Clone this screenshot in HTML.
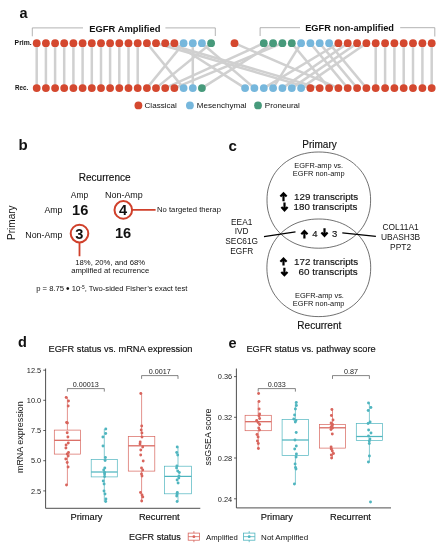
<!DOCTYPE html>
<html><head><meta charset="utf-8"><title>EGFR figure</title>
<style>
html,body{margin:0;padding:0;background:#fff;}
body{width:444px;height:550px;overflow:hidden;}
svg{display:block;font-family:"Liberation Sans",Arial,Helvetica,sans-serif;}
</style></head><body>
<svg width="444" height="550" viewBox="0 0 444 550">
<rect width="444" height="550" fill="#fff"/>
<g stroke="#D0D0D0" stroke-width="2.5" stroke-linecap="butt">
<line x1="36.7" y1="43.2" x2="36.7" y2="88.1"/>
<line x1="45.9" y1="43.2" x2="45.9" y2="88.1"/>
<line x1="55.1" y1="43.2" x2="55.1" y2="88.1"/>
<line x1="64.2" y1="43.2" x2="64.2" y2="88.1"/>
<line x1="73.4" y1="43.2" x2="73.4" y2="88.1"/>
<line x1="82.6" y1="43.2" x2="82.6" y2="88.1"/>
<line x1="91.8" y1="43.2" x2="91.8" y2="88.1"/>
<line x1="101.0" y1="43.2" x2="101.0" y2="88.1"/>
<line x1="110.1" y1="43.2" x2="110.1" y2="88.1"/>
<line x1="119.3" y1="43.2" x2="119.3" y2="88.1"/>
<line x1="128.5" y1="43.2" x2="128.5" y2="88.1"/>
<line x1="137.7" y1="43.2" x2="137.7" y2="88.1"/>
<line x1="375.7" y1="43.2" x2="375.7" y2="88.1"/>
<line x1="385.1" y1="43.2" x2="385.1" y2="88.1"/>
<line x1="394.4" y1="43.2" x2="394.4" y2="88.1"/>
<line x1="403.7" y1="43.2" x2="403.7" y2="88.1"/>
<line x1="413.0" y1="43.2" x2="413.0" y2="88.1"/>
<line x1="422.4" y1="43.2" x2="422.4" y2="88.1"/>
<line x1="431.7" y1="43.2" x2="431.7" y2="88.1"/>
<line x1="146.9" y1="43.2" x2="183.6" y2="88.1"/>
<line x1="183.6" y1="43.2" x2="146.9" y2="88.1"/>
<line x1="192.8" y1="43.2" x2="192.8" y2="88.1"/>
<line x1="211.1" y1="43.2" x2="156.0" y2="88.1"/>
<line x1="174.4" y1="43.2" x2="245.1" y2="88.1"/>
<line x1="201.9" y1="43.2" x2="254.4" y2="88.1"/>
<line x1="156.0" y1="43.2" x2="310.4" y2="88.1"/>
<line x1="165.2" y1="43.2" x2="319.7" y2="88.1"/>
<line x1="263.8" y1="43.2" x2="165.2" y2="88.1"/>
<line x1="273.1" y1="43.2" x2="201.9" y2="88.1"/>
<line x1="282.4" y1="43.2" x2="174.4" y2="88.1"/>
<line x1="234.5" y1="43.2" x2="338.4" y2="88.1"/>
<line x1="291.8" y1="43.2" x2="329.1" y2="88.1"/>
<line x1="310.4" y1="43.2" x2="347.7" y2="88.1"/>
<line x1="319.7" y1="43.2" x2="357.1" y2="88.1"/>
<line x1="329.1" y1="43.2" x2="366.4" y2="88.1"/>
<line x1="301.1" y1="43.2" x2="273.1" y2="88.1"/>
<line x1="338.4" y1="43.2" x2="263.8" y2="88.1"/>
<line x1="347.7" y1="43.2" x2="282.4" y2="88.1"/>
<line x1="357.1" y1="43.2" x2="291.8" y2="88.1"/>
<line x1="366.4" y1="43.2" x2="301.1" y2="88.1"/>
</g>
<circle cx="36.7" cy="43.2" r="3.9" fill="#D4482F"/>
<circle cx="45.9" cy="43.2" r="3.9" fill="#D4482F"/>
<circle cx="55.1" cy="43.2" r="3.9" fill="#D4482F"/>
<circle cx="64.2" cy="43.2" r="3.9" fill="#D4482F"/>
<circle cx="73.4" cy="43.2" r="3.9" fill="#D4482F"/>
<circle cx="82.6" cy="43.2" r="3.9" fill="#D4482F"/>
<circle cx="91.8" cy="43.2" r="3.9" fill="#D4482F"/>
<circle cx="101.0" cy="43.2" r="3.9" fill="#D4482F"/>
<circle cx="110.1" cy="43.2" r="3.9" fill="#D4482F"/>
<circle cx="119.3" cy="43.2" r="3.9" fill="#D4482F"/>
<circle cx="128.5" cy="43.2" r="3.9" fill="#D4482F"/>
<circle cx="137.7" cy="43.2" r="3.9" fill="#D4482F"/>
<circle cx="146.9" cy="43.2" r="3.9" fill="#D4482F"/>
<circle cx="156.0" cy="43.2" r="3.9" fill="#D4482F"/>
<circle cx="165.2" cy="43.2" r="3.9" fill="#D4482F"/>
<circle cx="174.4" cy="43.2" r="3.9" fill="#D4482F"/>
<circle cx="183.6" cy="43.2" r="3.9" fill="#76B7DC"/>
<circle cx="192.8" cy="43.2" r="3.9" fill="#76B7DC"/>
<circle cx="201.9" cy="43.2" r="3.9" fill="#76B7DC"/>
<circle cx="211.1" cy="43.2" r="3.9" fill="#479A7B"/>
<circle cx="36.7" cy="88.1" r="3.9" fill="#D4482F"/>
<circle cx="45.9" cy="88.1" r="3.9" fill="#D4482F"/>
<circle cx="55.1" cy="88.1" r="3.9" fill="#D4482F"/>
<circle cx="64.2" cy="88.1" r="3.9" fill="#D4482F"/>
<circle cx="73.4" cy="88.1" r="3.9" fill="#D4482F"/>
<circle cx="82.6" cy="88.1" r="3.9" fill="#D4482F"/>
<circle cx="91.8" cy="88.1" r="3.9" fill="#D4482F"/>
<circle cx="101.0" cy="88.1" r="3.9" fill="#D4482F"/>
<circle cx="110.1" cy="88.1" r="3.9" fill="#D4482F"/>
<circle cx="119.3" cy="88.1" r="3.9" fill="#D4482F"/>
<circle cx="128.5" cy="88.1" r="3.9" fill="#D4482F"/>
<circle cx="137.7" cy="88.1" r="3.9" fill="#D4482F"/>
<circle cx="146.9" cy="88.1" r="3.9" fill="#D4482F"/>
<circle cx="156.0" cy="88.1" r="3.9" fill="#D4482F"/>
<circle cx="165.2" cy="88.1" r="3.9" fill="#D4482F"/>
<circle cx="174.4" cy="88.1" r="3.9" fill="#D4482F"/>
<circle cx="183.6" cy="88.1" r="3.9" fill="#76B7DC"/>
<circle cx="192.8" cy="88.1" r="3.9" fill="#76B7DC"/>
<circle cx="201.9" cy="88.1" r="3.9" fill="#479A7B"/>
<circle cx="263.8" cy="43.2" r="3.9" fill="#479A7B"/>
<circle cx="273.1" cy="43.2" r="3.9" fill="#479A7B"/>
<circle cx="282.4" cy="43.2" r="3.9" fill="#479A7B"/>
<circle cx="291.8" cy="43.2" r="3.9" fill="#479A7B"/>
<circle cx="301.1" cy="43.2" r="3.9" fill="#76B7DC"/>
<circle cx="310.4" cy="43.2" r="3.9" fill="#76B7DC"/>
<circle cx="319.7" cy="43.2" r="3.9" fill="#76B7DC"/>
<circle cx="329.1" cy="43.2" r="3.9" fill="#76B7DC"/>
<circle cx="338.4" cy="43.2" r="3.9" fill="#D4482F"/>
<circle cx="347.7" cy="43.2" r="3.9" fill="#D4482F"/>
<circle cx="357.1" cy="43.2" r="3.9" fill="#D4482F"/>
<circle cx="366.4" cy="43.2" r="3.9" fill="#D4482F"/>
<circle cx="375.7" cy="43.2" r="3.9" fill="#D4482F"/>
<circle cx="385.1" cy="43.2" r="3.9" fill="#D4482F"/>
<circle cx="394.4" cy="43.2" r="3.9" fill="#D4482F"/>
<circle cx="403.7" cy="43.2" r="3.9" fill="#D4482F"/>
<circle cx="413.0" cy="43.2" r="3.9" fill="#D4482F"/>
<circle cx="422.4" cy="43.2" r="3.9" fill="#D4482F"/>
<circle cx="431.7" cy="43.2" r="3.9" fill="#D4482F"/>
<circle cx="245.1" cy="88.1" r="3.9" fill="#76B7DC"/>
<circle cx="254.4" cy="88.1" r="3.9" fill="#76B7DC"/>
<circle cx="263.8" cy="88.1" r="3.9" fill="#76B7DC"/>
<circle cx="273.1" cy="88.1" r="3.9" fill="#76B7DC"/>
<circle cx="282.4" cy="88.1" r="3.9" fill="#76B7DC"/>
<circle cx="291.8" cy="88.1" r="3.9" fill="#76B7DC"/>
<circle cx="301.1" cy="88.1" r="3.9" fill="#76B7DC"/>
<circle cx="310.4" cy="88.1" r="3.9" fill="#D4482F"/>
<circle cx="319.7" cy="88.1" r="3.9" fill="#D4482F"/>
<circle cx="329.1" cy="88.1" r="3.9" fill="#D4482F"/>
<circle cx="338.4" cy="88.1" r="3.9" fill="#D4482F"/>
<circle cx="347.7" cy="88.1" r="3.9" fill="#D4482F"/>
<circle cx="357.1" cy="88.1" r="3.9" fill="#D4482F"/>
<circle cx="366.4" cy="88.1" r="3.9" fill="#D4482F"/>
<circle cx="375.7" cy="88.1" r="3.9" fill="#D4482F"/>
<circle cx="385.1" cy="88.1" r="3.9" fill="#D4482F"/>
<circle cx="394.4" cy="88.1" r="3.9" fill="#D4482F"/>
<circle cx="403.7" cy="88.1" r="3.9" fill="#D4482F"/>
<circle cx="413.0" cy="88.1" r="3.9" fill="#D4482F"/>
<circle cx="422.4" cy="88.1" r="3.9" fill="#D4482F"/>
<circle cx="431.7" cy="88.1" r="3.9" fill="#D4482F"/>
<circle cx="234.5" cy="43.2" r="3.9" fill="#D4482F"/>
<g fill="none" stroke="#999" stroke-width="0.75">
<path d="M32.3 36.3V27.9H83"/><path d="M165.4 27.9H215.3V36"/>
<path d="M260.1 36V27.7H300"/><path d="M400.2 27.7H434.8V36.5"/>
</g>
<text x="89.3" y="31.5" font-size="9.3" text-anchor="start" font-weight="bold" textLength="71.1" lengthAdjust="spacingAndGlyphs" fill="#111">EGFR Amplified</text>
<text x="305.2" y="31.4" font-size="9.3" text-anchor="start" font-weight="bold" textLength="88.8" lengthAdjust="spacingAndGlyphs" fill="#111">EGFR non-amplified</text>
<text x="14.6" y="45.2" font-size="6.4" text-anchor="start" font-weight="bold" textLength="17.0" lengthAdjust="spacingAndGlyphs" fill="#111">Prim.</text>
<text x="15.0" y="90.3" font-size="6.4" text-anchor="start" font-weight="bold" textLength="13.2" lengthAdjust="spacingAndGlyphs" fill="#111">Rec.</text>
<text x="19.5" y="17.7" font-size="14.5" text-anchor="start" font-weight="bold" fill="#111">a</text>
<circle cx="138.4" cy="105.4" r="3.9" fill="#D4482F"/>
<text x="144.5" y="108.3" font-size="8.1" text-anchor="start" fill="#111">Classical</text>
<circle cx="189.9" cy="105.4" r="3.9" fill="#76B7DC"/>
<text x="196.7" y="108.3" font-size="8.1" text-anchor="start" fill="#111">Mesenchymal</text>
<circle cx="258" cy="105.4" r="3.9" fill="#479A7B"/>
<text x="264.8" y="108.3" font-size="8.1" text-anchor="start" fill="#111">Proneural</text>
<text x="18.6" y="150.4" font-size="15" text-anchor="start" font-weight="bold" fill="#111">b</text>
<text x="78.8" y="180.6" font-size="10" text-anchor="start" stroke="#111" stroke-width="0.15" textLength="51.8" lengthAdjust="spacingAndGlyphs" fill="#111">Recurrence</text>
<text x="70.8" y="197.8" font-size="8.8" text-anchor="start" textLength="17.4" lengthAdjust="spacingAndGlyphs" fill="#111">Amp</text>
<text x="105.0" y="197.8" font-size="8.8" text-anchor="start" textLength="37.8" lengthAdjust="spacingAndGlyphs" fill="#111">Non-Amp</text>
<text x="62.5" y="213.3" font-size="8.8" text-anchor="end" fill="#111">Amp</text>
<text x="62.5" y="238.3" font-size="8.8" text-anchor="end" fill="#111">Non-Amp</text>
<text x="80.2" y="215.0" font-size="14.6" text-anchor="middle" font-weight="bold" fill="#111">16</text>
<text x="123.0" y="215.0" font-size="14.6" text-anchor="middle" font-weight="bold" fill="#111">4</text>
<text x="79.4" y="238.7" font-size="14.6" text-anchor="middle" font-weight="bold" fill="#111">3</text>
<text x="123.0" y="237.8" font-size="14.6" text-anchor="middle" font-weight="bold" fill="#111">16</text>
<g fill="none" stroke="#D0402B" stroke-width="2"><circle cx="123.3" cy="209.9" r="8.8"/><circle cx="79.5" cy="233.6" r="8.8"/><path d="M132 209.9H155.6M79.5 242.3V256.2" stroke-width="1.8"/></g>
<text x="157.1" y="212.4" font-size="7.3" text-anchor="start" textLength="63.8" lengthAdjust="spacingAndGlyphs" fill="#111">No targeted therap</text>
<text x="110.2" y="264.8" font-size="7.7" text-anchor="middle" textLength="69.8" lengthAdjust="spacingAndGlyphs" fill="#111">18%, 20%, and 68%</text>
<text x="110.2" y="273.3" font-size="7.7" text-anchor="middle" textLength="78.0" lengthAdjust="spacingAndGlyphs" fill="#111">amplified at recurrence</text>
<text x="36.2" y="291.1" font-size="7.5" fill="#111" textLength="151.2" lengthAdjust="spacingAndGlyphs">p = 8.75 <tspan font-size="10" dy="0.6">•</tspan><tspan dy="-0.6"> 10</tspan><tspan font-size="4.8" dy="-2.1">-5</tspan><tspan dy="2.1">, Two-sided Fisher’s exact test</tspan></text>
<text transform="translate(15,222.7) rotate(-90)" font-size="10" text-anchor="middle" fill="#111">Primary</text>
<text x="228.4" y="150.8" font-size="15" text-anchor="start" font-weight="bold" fill="#111">c</text>
<text x="319.5" y="148.2" font-size="10" text-anchor="middle" stroke="#111" stroke-width="0.15" fill="#111">Primary</text>
<text x="319.3" y="328.6" font-size="10" text-anchor="middle" stroke="#111" stroke-width="0.15" fill="#111">Recurrent</text>
<g fill="none" stroke="#333" stroke-width="0.7">
<path d="M370.6 200.1L370.5 203.7L370.2 207.0L369.7 210.2L368.9 213.4L368.0 216.4L366.8 219.4L365.5 222.2L364.0 225.0L362.3 227.6L360.4 230.1L358.3 232.4L356.0 234.7L353.6 236.8L351.1 238.7L348.4 240.4L345.6 242.0L342.6 243.5L339.6 244.7L336.4 245.8L333.1 246.6L329.7 247.3L326.2 247.8L322.7 248.1L318.8 248.2L314.9 248.1L311.4 247.8L307.9 247.3L304.5 246.6L301.2 245.8L298.0 244.7L295.0 243.5L292.0 242.0L289.2 240.4L286.5 238.7L284.0 236.8L281.6 234.7L279.3 232.4L277.2 230.1L275.3 227.6L273.6 225.0L272.1 222.2L270.8 219.4L269.6 216.4L268.7 213.4L267.9 210.2L267.4 207.0L267.1 203.7L267.0 200.1L267.1 196.5L267.4 193.2L267.9 190.0L268.7 186.8L269.6 183.8L270.8 180.8L272.1 178.0L273.6 175.2L275.3 172.6L277.2 170.1L279.3 167.8L281.6 165.5L284.0 163.4L286.5 161.5L289.2 159.8L292.0 158.2L295.0 156.7L298.0 155.5L301.2 154.4L304.5 153.6L307.9 152.9L311.4 152.4L314.9 152.1L318.8 152.0L322.7 152.1L326.2 152.4L329.7 152.9L333.1 153.6L336.4 154.4L339.6 155.5L342.6 156.7L345.6 158.2L348.4 159.8L351.1 161.5L353.6 163.4L356.0 165.5L358.3 167.8L360.4 170.1L362.3 172.6L364.0 175.2L365.5 178.0L366.8 180.8L368.0 183.8L368.9 186.8L369.7 190.0L370.2 193.2L370.5 196.5Z"/>
<path d="M370.7 267.8L370.6 271.4L370.3 274.8L369.7 278.1L369.0 281.3L368.1 284.4L366.9 287.3L365.6 290.2L364.1 293.0L362.3 295.7L360.4 298.2L358.4 300.6L356.1 302.9L353.7 305.0L351.2 306.9L348.5 308.7L345.6 310.4L342.7 311.8L339.6 313.1L336.4 314.1L333.1 315.0L329.7 315.7L326.3 316.2L322.7 316.5L318.8 316.6L314.9 316.5L311.3 316.2L307.9 315.7L304.5 315.0L301.2 314.1L298.0 313.1L294.9 311.8L292.0 310.4L289.1 308.7L286.4 306.9L283.9 305.0L281.5 302.9L279.2 300.6L277.2 298.2L275.3 295.7L273.5 293.0L272.0 290.2L270.7 287.3L269.5 284.4L268.6 281.3L267.9 278.1L267.3 274.8L267.0 271.4L266.9 267.8L267.0 264.2L267.3 260.8L267.9 257.5L268.6 254.3L269.5 251.2L270.7 248.3L272.0 245.4L273.5 242.6L275.3 239.9L277.2 237.4L279.2 235.0L281.5 232.7L283.9 230.6L286.4 228.7L289.1 226.9L292.0 225.2L294.9 223.8L298.0 222.5L301.2 221.5L304.5 220.6L307.9 219.9L311.3 219.4L314.9 219.1L318.8 219.0L322.7 219.1L326.3 219.4L329.7 219.9L333.1 220.6L336.4 221.5L339.6 222.5L342.7 223.8L345.6 225.2L348.5 226.9L351.2 228.7L353.7 230.6L356.1 232.7L358.4 235.0L360.4 237.4L362.3 239.9L364.1 242.6L365.6 245.4L366.9 248.3L368.1 251.2L369.0 254.3L369.7 257.5L370.3 260.8L370.6 264.2Z"/>
</g>
<text x="318.7" y="167.8" font-size="7.4" text-anchor="middle" fill="#111">EGFR-amp vs.</text>
<text x="318.7" y="176.1" font-size="7.4" text-anchor="middle" fill="#111">EGFR non-amp</text>
<text x="319.5" y="297.6" font-size="7.4" text-anchor="middle" fill="#111">EGFR-amp vs.</text>
<text x="318.6" y="306.0" font-size="7.4" text-anchor="middle" fill="#111">EGFR non-amp</text>
<text x="294.0" y="199.6" font-size="9.7" text-anchor="start" stroke="#111" stroke-width="0.15" textLength="64.2" lengthAdjust="spacingAndGlyphs" fill="#111">129 transcripts</text>
<text x="293.6" y="209.9" font-size="9.7" text-anchor="start" stroke="#111" stroke-width="0.15" textLength="63.8" lengthAdjust="spacingAndGlyphs" fill="#111">180 transcripts</text>
<text x="294.0" y="264.5" font-size="9.7" text-anchor="start" stroke="#111" stroke-width="0.15" textLength="64.2" lengthAdjust="spacingAndGlyphs" fill="#111">172 transcripts</text>
<text x="298.6" y="275.0" font-size="9.7" text-anchor="start" stroke="#111" stroke-width="0.15" textLength="59.2" lengthAdjust="spacingAndGlyphs" fill="#111">60 transcripts</text>
<path d="M283.5 201.2V193.7M280.4 196.5L283.5 193.29999999999998L286.6 196.5" fill="none" stroke="#000" stroke-width="2.2" stroke-linejoin="miter"/>
<path d="M284.5 202.4V209.9M281.4 207.1L284.5 210.3L287.6 207.1" fill="none" stroke="#000" stroke-width="2.2" stroke-linejoin="miter"/>
<path d="M283.5 265.6V258.9M280.4 261.7L283.5 258.5L286.6 261.7" fill="none" stroke="#000" stroke-width="2.2" stroke-linejoin="miter"/>
<path d="M284.4 267.7V274.8M281.29999999999995 272.0L284.4 275.2L287.5 272.0" fill="none" stroke="#000" stroke-width="2.2" stroke-linejoin="miter"/>
<path d="M304.4 238.4V231.4M301.29999999999995 234.20000000000002L304.4 231.0L307.5 234.20000000000002" fill="none" stroke="#000" stroke-width="2.2" stroke-linejoin="miter"/>
<path d="M324.5 228.2V235.4M321.4 232.6L324.5 235.8L327.6 232.6" fill="none" stroke="#000" stroke-width="2.2" stroke-linejoin="miter"/>
<text x="314.8" y="237.0" font-size="9.5" text-anchor="middle" stroke="#111" stroke-width="0.15" fill="#111">4</text>
<text x="334.7" y="237.0" font-size="9.5" text-anchor="middle" stroke="#111" stroke-width="0.15" fill="#111">3</text>
<path d="M264 236.7L295.5 231.8M342.3 232.9L375.9 236.3" stroke="#000" stroke-width="1.2" fill="none"/>
<text x="241.7" y="224.8" font-size="8.3" text-anchor="middle" fill="#111">EEA1</text>
<text x="241.7" y="234.4" font-size="8.3" text-anchor="middle" fill="#111">IVD</text>
<text x="241.7" y="244.2" font-size="8.3" text-anchor="middle" fill="#111">SEC61G</text>
<text x="241.7" y="253.8" font-size="8.3" text-anchor="middle" fill="#111">EGFR</text>
<text x="400.6" y="229.6" font-size="8.4" text-anchor="middle" fill="#111">COL11A1</text>
<text x="400.6" y="239.5" font-size="8.4" text-anchor="middle" fill="#111">UBASH3B</text>
<text x="400.6" y="249.5" font-size="8.4" text-anchor="middle" fill="#111">PPT2</text>
<text x="18.0" y="346.7" font-size="14.5" text-anchor="start" font-weight="bold" fill="#111">d</text>
<text x="48.5" y="351.7" font-size="9.2" text-anchor="start" stroke="#111" stroke-width="0.15" textLength="144.0" lengthAdjust="spacingAndGlyphs" fill="#111">EGFR status vs. mRNA expression</text>
<path d="M45.6 368.5V508.3H200.3" fill="none" stroke="#222" stroke-width="0.8"/>
<path d="M43.2 370.2H45.6" stroke="#222" stroke-width="0.7"/>
<text x="41.2" y="372.9" font-size="7.4" text-anchor="end" fill="#222">12.5</text>
<path d="M43.2 400.3H45.6" stroke="#222" stroke-width="0.7"/>
<text x="41.2" y="403.0" font-size="7.4" text-anchor="end" fill="#222">10.0</text>
<path d="M43.2 430.5H45.6" stroke="#222" stroke-width="0.7"/>
<text x="41.2" y="433.2" font-size="7.4" text-anchor="end" fill="#222">7.5</text>
<path d="M43.2 460.7H45.6" stroke="#222" stroke-width="0.7"/>
<text x="41.2" y="463.4" font-size="7.4" text-anchor="end" fill="#222">5.0</text>
<path d="M43.2 490.9H45.6" stroke="#222" stroke-width="0.7"/>
<text x="41.2" y="493.6" font-size="7.4" text-anchor="end" fill="#222">2.5</text>
<text x="86.5" y="520.2" font-size="9.3" text-anchor="middle" stroke="#111" stroke-width="0.15" fill="#111">Primary</text>
<text x="159.3" y="520.3" font-size="9.3" text-anchor="middle" stroke="#111" stroke-width="0.15" fill="#111">Recurrent</text>
<text transform="translate(22.8,437.2) rotate(-90)" font-size="9.1" textLength="71.8" lengthAdjust="spacingAndGlyphs" text-anchor="middle" fill="#111">mRNA expression</text>
<path d="M67.4 391.6V388.6H104.3V391.6" fill="none" stroke="#333" stroke-width="0.6"/>
<text x="85.8" y="387.2" font-size="7.2" text-anchor="middle" fill="#222">0.00013</text>
<path d="M141.6 378.9V375.6H178V378.9" fill="none" stroke="#333" stroke-width="0.6"/>
<text x="159.8" y="374.2" font-size="7.2" text-anchor="middle" fill="#222">0.0017</text>
<g stroke="#D8645C" fill="none" stroke-width="0.7">
<path d="M67.4 397.2V430.1M67.4 454.1V485.0"/>
<rect x="54.3" y="430.1" width="26.2" height="24.0"/>
<path d="M54.3 440.3H80.5" stroke-width="1.25"/>
</g>
<g fill="#D8645C">
<circle cx="66.2" cy="397.5" r="1.45"/>
<circle cx="68.5" cy="401.0" r="1.45"/>
<circle cx="68.2" cy="406.0" r="1.45"/>
<circle cx="66.6" cy="422.5" r="1.45"/>
<circle cx="67.4" cy="423.0" r="1.45"/>
<circle cx="67.2" cy="432.8" r="1.45"/>
<circle cx="67.9" cy="437.0" r="1.45"/>
<circle cx="68.3" cy="443.0" r="1.45"/>
<circle cx="66.1" cy="445.0" r="1.45"/>
<circle cx="65.9" cy="448.0" r="1.45"/>
<circle cx="68.5" cy="452.5" r="1.45"/>
<circle cx="67.2" cy="454.0" r="1.45"/>
<circle cx="68.2" cy="456.0" r="1.45"/>
<circle cx="65.8" cy="459.0" r="1.45"/>
<circle cx="67.2" cy="462.5" r="1.45"/>
<circle cx="68.1" cy="467.0" r="1.45"/>
<circle cx="66.5" cy="485.0" r="1.45"/>
</g>
<g stroke="#4FB5BF" fill="none" stroke-width="0.7">
<path d="M104.3 429.0V459.4M104.3 476.9V501.6"/>
<rect x="91.2" y="459.4" width="26.1" height="17.5"/>
<path d="M91.2 472.0H117.3" stroke-width="1.25"/>
</g>
<g fill="#4FB5BF">
<circle cx="105.8" cy="429.0" r="1.45"/>
<circle cx="105.7" cy="433.5" r="1.45"/>
<circle cx="102.9" cy="437.0" r="1.45"/>
<circle cx="103.0" cy="446.0" r="1.45"/>
<circle cx="105.4" cy="457.5" r="1.45"/>
<circle cx="105.1" cy="460.5" r="1.45"/>
<circle cx="104.8" cy="468.0" r="1.45"/>
<circle cx="103.7" cy="470.0" r="1.45"/>
<circle cx="104.6" cy="472.5" r="1.45"/>
<circle cx="104.6" cy="474.0" r="1.45"/>
<circle cx="104.6" cy="476.5" r="1.45"/>
<circle cx="103.2" cy="481.0" r="1.45"/>
<circle cx="104.1" cy="484.0" r="1.45"/>
<circle cx="104.0" cy="491.0" r="1.45"/>
<circle cx="105.0" cy="494.0" r="1.45"/>
<circle cx="105.9" cy="499.0" r="1.45"/>
<circle cx="105.7" cy="501.5" r="1.45"/>
</g>
<g stroke="#D8645C" fill="none" stroke-width="0.7">
<path d="M141.6 393.5V436.5M141.6 471.1V501.0"/>
<rect x="128.3" y="436.5" width="26.5" height="34.6"/>
<path d="M128.3 445.8H154.8" stroke-width="1.25"/>
</g>
<g fill="#D8645C">
<circle cx="140.8" cy="393.5" r="1.45"/>
<circle cx="141.7" cy="426.0" r="1.45"/>
<circle cx="141.2" cy="430.0" r="1.45"/>
<circle cx="141.9" cy="433.0" r="1.45"/>
<circle cx="142.0" cy="437.0" r="1.45"/>
<circle cx="140.2" cy="442.0" r="1.45"/>
<circle cx="140.0" cy="444.0" r="1.45"/>
<circle cx="142.7" cy="447.0" r="1.45"/>
<circle cx="140.8" cy="450.0" r="1.45"/>
<circle cx="140.7" cy="455.0" r="1.45"/>
<circle cx="143.2" cy="461.0" r="1.45"/>
<circle cx="141.5" cy="468.0" r="1.45"/>
<circle cx="142.7" cy="470.0" r="1.45"/>
<circle cx="141.5" cy="474.0" r="1.45"/>
<circle cx="142.0" cy="476.0" r="1.45"/>
<circle cx="140.5" cy="492.5" r="1.45"/>
<circle cx="142.0" cy="495.0" r="1.45"/>
<circle cx="142.8" cy="497.0" r="1.45"/>
<circle cx="141.7" cy="501.0" r="1.45"/>
</g>
<g stroke="#4FB5BF" fill="none" stroke-width="0.7">
<path d="M178.0 446.7V466.2M178.0 493.8V501.7"/>
<rect x="164.5" y="466.2" width="27.0" height="27.6"/>
<path d="M164.5 476.4H191.5" stroke-width="1.25"/>
</g>
<g fill="#4FB5BF">
<circle cx="177.2" cy="447.0" r="1.45"/>
<circle cx="176.7" cy="452.5" r="1.45"/>
<circle cx="177.7" cy="455.0" r="1.45"/>
<circle cx="176.9" cy="466.0" r="1.45"/>
<circle cx="176.6" cy="468.0" r="1.45"/>
<circle cx="177.7" cy="471.0" r="1.45"/>
<circle cx="179.3" cy="472.5" r="1.45"/>
<circle cx="179.0" cy="476.0" r="1.45"/>
<circle cx="178.8" cy="478.0" r="1.45"/>
<circle cx="177.1" cy="480.0" r="1.45"/>
<circle cx="178.1" cy="483.0" r="1.45"/>
<circle cx="177.3" cy="492.5" r="1.45"/>
<circle cx="177.0" cy="494.0" r="1.45"/>
<circle cx="176.7" cy="496.0" r="1.45"/>
<circle cx="177.1" cy="501.5" r="1.45"/>
</g>
<text x="228.6" y="347.6" font-size="14.5" text-anchor="start" font-weight="bold" fill="#111">e</text>
<text x="246.4" y="352.0" font-size="9.1" text-anchor="start" stroke="#111" stroke-width="0.15" textLength="129.3" lengthAdjust="spacingAndGlyphs" fill="#111">EGFR status vs. pathway score</text>
<path d="M236.4 368.5V507.9H391" fill="none" stroke="#222" stroke-width="0.8"/>
<path d="M234 376.6H236.4" stroke="#222" stroke-width="0.7"/>
<text x="232.2" y="379.3" font-size="7.4" text-anchor="end" fill="#222">0.36</text>
<path d="M234 417.3H236.4" stroke="#222" stroke-width="0.7"/>
<text x="232.2" y="420.0" font-size="7.4" text-anchor="end" fill="#222">0.32</text>
<path d="M234 458H236.4" stroke="#222" stroke-width="0.7"/>
<text x="232.2" y="460.7" font-size="7.4" text-anchor="end" fill="#222">0.28</text>
<path d="M234 498.8H236.4" stroke="#222" stroke-width="0.7"/>
<text x="232.2" y="501.5" font-size="7.4" text-anchor="end" fill="#222">0.24</text>
<text x="276.8" y="520.3" font-size="9.3" text-anchor="middle" stroke="#111" stroke-width="0.15" fill="#111">Primary</text>
<text x="350.5" y="520.3" font-size="9.3" text-anchor="middle" stroke="#111" stroke-width="0.15" fill="#111">Recurrent</text>
<text transform="translate(210.5,437) rotate(-90)" font-size="9.1" textLength="57" lengthAdjust="spacingAndGlyphs" text-anchor="middle" fill="#111">ssGSEA score</text>
<path d="M258.2 391.6V388.6H295.4V391.6" fill="none" stroke="#333" stroke-width="0.6"/>
<text x="276.8" y="387.2" font-size="7.2" text-anchor="middle" fill="#222">0.033</text>
<path d="M332.5 378.9V375.6H369.4V378.9" fill="none" stroke="#333" stroke-width="0.6"/>
<text x="350.9" y="374.2" font-size="7.2" text-anchor="middle" fill="#222">0.87</text>
<g stroke="#D8645C" fill="none" stroke-width="0.7">
<path d="M258.2 401.4V415.3M258.2 430.7V448.7"/>
<rect x="245.1" y="415.3" width="26.2" height="15.4"/>
<path d="M245.1 421.7H271.3" stroke-width="1.25"/>
</g>
<g fill="#D8645C">
<circle cx="258.6" cy="393.5" r="1.45"/>
<circle cx="259.0" cy="401.5" r="1.45"/>
<circle cx="259.1" cy="409.0" r="1.45"/>
<circle cx="259.6" cy="414.0" r="1.45"/>
<circle cx="259.0" cy="416.0" r="1.45"/>
<circle cx="259.6" cy="418.5" r="1.45"/>
<circle cx="256.7" cy="420.5" r="1.45"/>
<circle cx="258.1" cy="422.5" r="1.45"/>
<circle cx="259.6" cy="424.5" r="1.45"/>
<circle cx="258.7" cy="428.0" r="1.45"/>
<circle cx="259.5" cy="430.0" r="1.45"/>
<circle cx="257.0" cy="434.5" r="1.45"/>
<circle cx="258.1" cy="437.0" r="1.45"/>
<circle cx="257.4" cy="441.0" r="1.45"/>
<circle cx="258.3" cy="443.5" r="1.45"/>
<circle cx="258.4" cy="448.5" r="1.45"/>
</g>
<g stroke="#4FB5BF" fill="none" stroke-width="0.7">
<path d="M295.4 402.2V419.6M295.4 455.4V484.2"/>
<rect x="282.1" y="419.6" width="26.5" height="35.8"/>
<path d="M282.1 440.0H308.6" stroke-width="1.25"/>
</g>
<g fill="#4FB5BF">
<circle cx="296.3" cy="402.5" r="1.45"/>
<circle cx="296.4" cy="405.5" r="1.45"/>
<circle cx="295.4" cy="409.0" r="1.45"/>
<circle cx="294.6" cy="415.0" r="1.45"/>
<circle cx="293.8" cy="419.0" r="1.45"/>
<circle cx="295.9" cy="420.5" r="1.45"/>
<circle cx="295.3" cy="422.0" r="1.45"/>
<circle cx="296.2" cy="432.5" r="1.45"/>
<circle cx="295.0" cy="440.0" r="1.45"/>
<circle cx="296.3" cy="446.0" r="1.45"/>
<circle cx="294.7" cy="449.0" r="1.45"/>
<circle cx="296.4" cy="454.0" r="1.45"/>
<circle cx="296.1" cy="457.0" r="1.45"/>
<circle cx="295.1" cy="464.0" r="1.45"/>
<circle cx="295.5" cy="467.5" r="1.45"/>
<circle cx="296.0" cy="469.0" r="1.45"/>
<circle cx="294.4" cy="484.0" r="1.45"/>
</g>
<g stroke="#D8645C" fill="none" stroke-width="0.7">
<path d="M332.5 409.5V424.6M332.5 448.1V458.3"/>
<rect x="319.4" y="424.6" width="26.2" height="23.5"/>
<path d="M319.4 427.8H345.6" stroke-width="1.25"/>
</g>
<g fill="#D8645C">
<circle cx="331.9" cy="409.5" r="1.45"/>
<circle cx="331.4" cy="415.5" r="1.45"/>
<circle cx="333.0" cy="420.0" r="1.45"/>
<circle cx="331.1" cy="423.0" r="1.45"/>
<circle cx="332.6" cy="424.5" r="1.45"/>
<circle cx="332.1" cy="426.0" r="1.45"/>
<circle cx="331.1" cy="427.0" r="1.45"/>
<circle cx="332.5" cy="428.0" r="1.45"/>
<circle cx="331.0" cy="429.5" r="1.45"/>
<circle cx="332.3" cy="434.0" r="1.45"/>
<circle cx="331.1" cy="447.0" r="1.45"/>
<circle cx="331.2" cy="449.0" r="1.45"/>
<circle cx="332.3" cy="451.0" r="1.45"/>
<circle cx="333.5" cy="453.5" r="1.45"/>
<circle cx="331.3" cy="455.0" r="1.45"/>
<circle cx="331.6" cy="458.0" r="1.45"/>
</g>
<g stroke="#4FB5BF" fill="none" stroke-width="0.7">
<path d="M369.4 402.8V423.4M369.4 440.6V462.4"/>
<rect x="356.3" y="423.4" width="26.2" height="17.2"/>
<path d="M356.3 436.5H382.5" stroke-width="1.25"/>
</g>
<g fill="#4FB5BF">
<circle cx="368.5" cy="403.0" r="1.45"/>
<circle cx="370.9" cy="407.5" r="1.45"/>
<circle cx="368.2" cy="410.5" r="1.45"/>
<circle cx="370.1" cy="422.0" r="1.45"/>
<circle cx="368.1" cy="423.5" r="1.45"/>
<circle cx="368.6" cy="430.0" r="1.45"/>
<circle cx="371.0" cy="433.0" r="1.45"/>
<circle cx="368.5" cy="436.0" r="1.45"/>
<circle cx="369.9" cy="439.0" r="1.45"/>
<circle cx="369.3" cy="441.0" r="1.45"/>
<circle cx="369.3" cy="443.5" r="1.45"/>
<circle cx="369.4" cy="456.0" r="1.45"/>
<circle cx="368.4" cy="462.0" r="1.45"/>
<circle cx="370.5" cy="502.0" r="1.45"/>
</g>
<text x="129.0" y="540.3" font-size="9.2" text-anchor="start" stroke="#111" stroke-width="0.15" textLength="51.8" lengthAdjust="spacingAndGlyphs" fill="#111">EGFR status</text>
<g stroke="#D8645C" fill="none" stroke-width="0.8"><rect x="188.2" y="533.1" width="11.4" height="7.1"/><path d="M193.9 531.1V533.1M193.9 540.2V542.2M188.2 536.65H199.6" /></g><circle cx="193.9" cy="536.65" r="1.4" fill="#D8645C"/>
<g stroke="#4FB5BF" fill="none" stroke-width="0.8"><rect x="243.5" y="533.1" width="11.4" height="7.1"/><path d="M249.2 531.1V533.1M249.2 540.2V542.2M243.5 536.65H254.9" /></g><circle cx="249.2" cy="536.65" r="1.4" fill="#4FB5BF"/>
<text x="206.0" y="539.7" font-size="7.9" text-anchor="start" textLength="31.8" lengthAdjust="spacingAndGlyphs" fill="#111">Amplified</text>
<text x="261.1" y="539.7" font-size="7.9" text-anchor="start" textLength="47.2" lengthAdjust="spacingAndGlyphs" fill="#111">Not Amplified</text>
</svg>
</body></html>
